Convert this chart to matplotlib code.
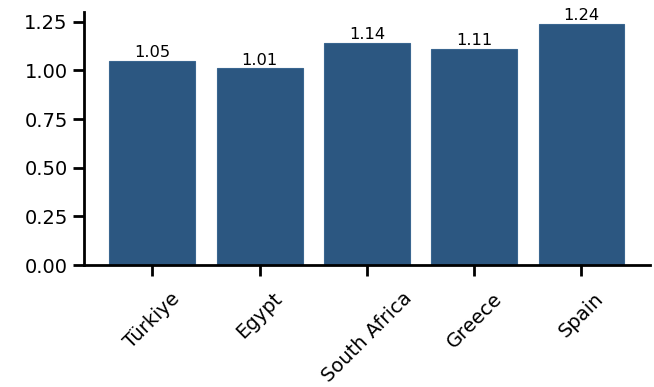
import matplotlib
matplotlib.use("Agg")
import matplotlib.pyplot as plt

plt.rcParams["font.family"] = ["DejaVu Sans"]

countries = ["Türkiye", "Egypt", "South Africa", "Greece", "Spain"]
values = [1.05, 1.01, 1.14, 1.11, 1.24]
labels = ["1.05", "1.01", "1.14", "1.11", "1.24"]

fig = plt.figure(figsize=(6.54, 3.87), dpi=100)
ax = fig.add_axes([0.128, 0.315, 0.866, 0.655])
bars = ax.bar(countries, values, width=0.8, color="#2c5781", edgecolor="#3a6690", linewidth=0.8)
for b, lab in zip(bars, labels):
    ax.annotate(lab, (b.get_x() + b.get_width() / 2, b.get_height()),
                xytext=(0, 0.5), textcoords="offset points", ha="center", va="bottom", fontsize=11.7)
ax.set_yticks([0, 0.25, 0.5, 0.75, 1.0, 1.25])
ax.set_yticklabels(["0.00", "0.25", "0.50", "0.75", "1.00", "1.25"])
ax.tick_params(axis="both", labelsize=14, length=8, width=2)
ax.tick_params(axis="x", pad=9)
plt.setp(ax.get_xticklabels(), rotation=45, ha="center")
for s in ["top", "right"]:
    ax.spines[s].set_visible(False)
for s in ["left", "bottom"]:
    ax.spines[s].set_linewidth(2)
fig.savefig("out.png", dpi=100)
